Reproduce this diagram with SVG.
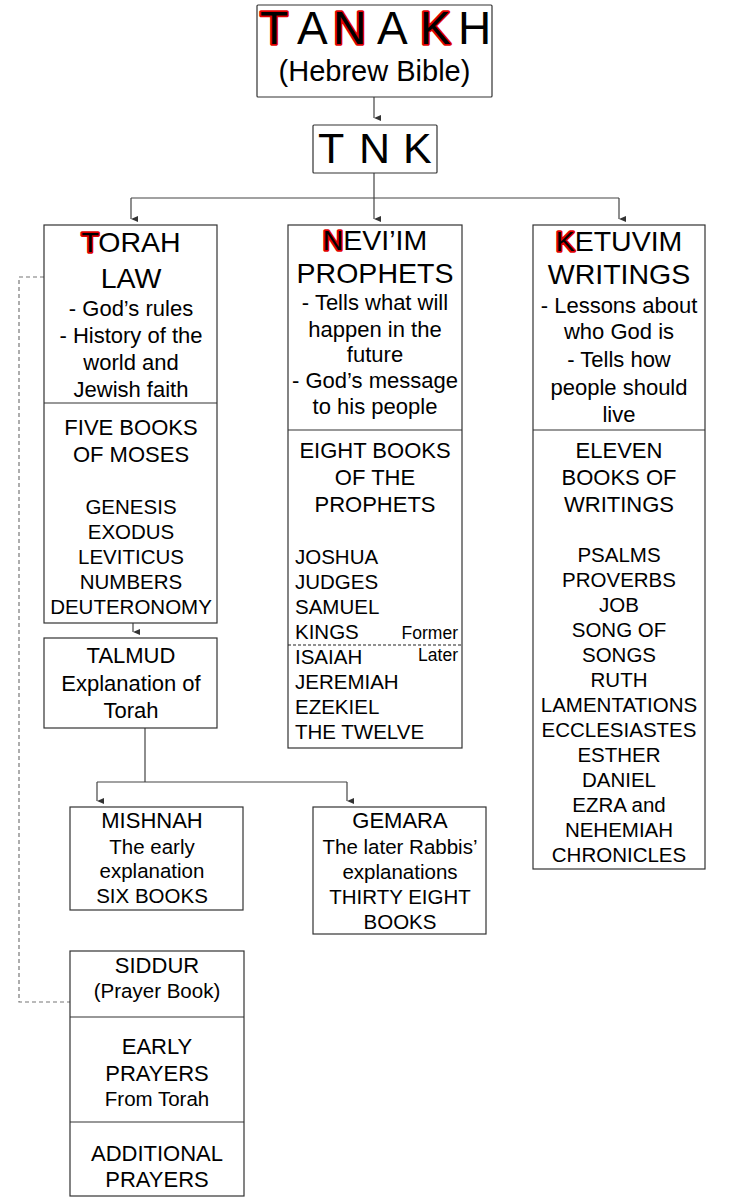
<svg xmlns="http://www.w3.org/2000/svg" width="750" height="1201" viewBox="0 0 750 1201">
<defs>
<marker id="arr" markerWidth="8" markerHeight="8" refX="4" refY="7" orient="auto" markerUnits="userSpaceOnUse" viewBox="0 0 8 8">
<path d="M1,0 L4,7 L7,0 Z" fill="#333"/>
</marker>
</defs>
<style>
text{font-family:"Liberation Sans",Arial,sans-serif;fill:#000;}
.box{fill:#fff;stroke:#333;stroke-width:1.2;}
.div{stroke:#333;stroke-width:1.2;fill:none;}
.c{text-anchor:middle;}
.l{text-anchor:start;}
.r{text-anchor:end;}
.h{font-size:28.5px;}
.m{font-size:22px;}
.s{font-size:20.5px;}
.t{font-size:17.5px;}
.red{stroke:#e00000;stroke-width:3.5;paint-order:stroke;stroke-linejoin:round;}
.conn{stroke:#444;stroke-width:1.2;fill:none;}
.dash{stroke:#777;stroke-width:1.2;fill:none;stroke-dasharray:4,3;}
</style>
<rect width="750" height="1201" fill="#fff"/>

<g id="connectors">
<path class="conn" d="M374,97 V118" marker-end="url(#arr)"/>
<path class="conn" d="M374,173 V198 M131,198 H619"/>
<path class="conn" d="M131,198 V219" marker-end="url(#arr)"/>
<path class="conn" d="M374,198 V219" marker-end="url(#arr)"/>
<path class="conn" d="M619,198 V219" marker-end="url(#arr)"/>
<path class="conn" d="M133,623 V632" marker-end="url(#arr)"/>
<path class="conn" d="M145,728 V782 M97,782 H347"/>
<path class="conn" d="M97,782 V801" marker-end="url(#arr)"/>
<path class="conn" d="M347,782 V801" marker-end="url(#arr)"/>
<path class="dash" d="M44,277 H19 V1002 H70"/>
</g>

<g id="tanakh">
<rect class="box" x="257" y="5" width="235" height="92" rx="1"/>
<text font-size="46" y="44"><tspan class="red" x="260">T</tspan><tspan x="297">A</tspan><tspan class="red" x="333">N</tspan><tspan x="377">A</tspan><tspan class="red" x="420">K</tspan><tspan x="458">H</tspan></text>
<text class="c" font-size="29" x="374.5" y="81">(Hebrew Bible)</text>
</g>

<g id="tnk">
<rect class="box" x="313" y="125" width="124" height="48" rx="1"/>
<text font-size="43" y="163"><tspan x="318">T</tspan><tspan x="359">N</tspan><tspan x="403">K</tspan></text>
</g>

<g id="torah">
<rect class="box" x="44" y="225" width="173" height="398"/>
<line class="div" x1="44" y1="403" x2="217" y2="403"/>
<text class="c h" x="131" y="252"><tspan class="red">T</tspan>ORAH</text>
<text class="c h" x="131" y="288">LAW</text>
<text class="c m" x="131" y="316">- God’s rules</text>
<text class="c m" x="131" y="343">- History of the</text>
<text class="c m" x="131" y="370">world and</text>
<text class="c m" x="131" y="397">Jewish faith</text>
<text class="c m" x="131" y="435">FIVE BOOKS</text>
<text class="c m" x="131" y="462">OF MOSES</text>
<text class="c s" x="131" y="514">GENESIS</text>
<text class="c s" x="131" y="539">EXODUS</text>
<text class="c s" x="131" y="564">LEVITICUS</text>
<text class="c s" x="131" y="589">NUMBERS</text>
<text class="c s" x="131" y="614">DEUTERONOMY</text>
</g>

<g id="neviim">
<rect class="box" x="288" y="225" width="174" height="523"/>
<line class="div" x1="288" y1="430" x2="462" y2="430"/>
<line x1="288" y1="645" x2="462" y2="645" stroke="#222" stroke-width="1.2" stroke-dasharray="3,2"/>
<text class="c h" x="375" y="250"><tspan class="red">N</tspan>EVI’IM</text>
<text class="c h" x="375" y="283">PROPHETS</text>
<text class="c m" x="375" y="310">- Tells what will</text>
<text class="c m" x="375" y="337">happen in the</text>
<text class="c m" x="375" y="362">future</text>
<text class="c m" x="375" y="388">- God’s message</text>
<text class="c m" x="375" y="414">to his people</text>
<text class="c m" x="375" y="458">EIGHT BOOKS</text>
<text class="c m" x="375" y="485">OF THE</text>
<text class="c m" x="375" y="512">PROPHETS</text>
<text class="l s" x="295" y="564">JOSHUA</text>
<text class="l s" x="295" y="589">JUDGES</text>
<text class="l s" x="295" y="614">SAMUEL</text>
<text class="l s" x="295" y="639">KINGS</text>
<text class="r t" x="458" y="639">Former</text>
<text class="l s" x="295" y="664">ISAIAH</text>
<text class="r t" x="458" y="661">Later</text>
<text class="l s" x="295" y="689">JEREMIAH</text>
<text class="l s" x="295" y="714">EZEKIEL</text>
<text class="l s" x="295" y="739">THE TWELVE</text>
</g>

<g id="ketuvim">
<rect class="box" x="533" y="225" width="172" height="644"/>
<line class="div" x1="533" y1="430" x2="705" y2="430"/>
<text class="c h" x="619" y="251"><tspan class="red">K</tspan>ETUVIM</text>
<text class="c h" x="619" y="284">WRITINGS</text>
<text class="c m" x="619" y="313">- Lessons about</text>
<text class="c m" x="619" y="339">who God is</text>
<text class="c m" x="619" y="367">- Tells how</text>
<text class="c m" x="619" y="395">people should</text>
<text class="c m" x="619" y="422">live</text>
<text class="c m" x="619" y="458">ELEVEN</text>
<text class="c m" x="619" y="485">BOOKS OF</text>
<text class="c m" x="619" y="512">WRITINGS</text>
<text class="c s" x="619" y="562">PSALMS</text>
<text class="c s" x="619" y="587">PROVERBS</text>
<text class="c s" x="619" y="612">JOB</text>
<text class="c s" x="619" y="637">SONG OF</text>
<text class="c s" x="619" y="662">SONGS</text>
<text class="c s" x="619" y="687">RUTH</text>
<text class="c s" x="619" y="712">LAMENTATIONS</text>
<text class="c s" x="619" y="737">ECCLESIASTES</text>
<text class="c s" x="619" y="762">ESTHER</text>
<text class="c s" x="619" y="787">DANIEL</text>
<text class="c s" x="619" y="812">EZRA and</text>
<text class="c s" x="619" y="837">NEHEMIAH</text>
<text class="c s" x="619" y="862">CHRONICLES</text>
</g>

<g id="talmud">
<rect class="box" x="44" y="638" width="173" height="90"/>
<text class="c m" x="131" y="663">TALMUD</text>
<text class="c m" x="131" y="691">Explanation of</text>
<text class="c m" x="131" y="718">Torah</text>
</g>

<g id="mishnah">
<rect class="box" x="70" y="807" width="173" height="103"/>
<text class="c m" x="152" y="828">MISHNAH</text>
<text class="c s" x="152" y="854">The early</text>
<text class="c s" x="152" y="878">explanation</text>
<text class="c s" x="152" y="903">SIX BOOKS</text>
</g>

<g id="gemara">
<rect class="box" x="313" y="807" width="173" height="127"/>
<text class="c m" x="400" y="828">GEMARA</text>
<text class="c s" x="400" y="854">The later Rabbis’</text>
<text class="c s" x="400" y="879">explanations</text>
<text class="c s" x="400" y="904">THIRTY EIGHT</text>
<text class="c s" x="400" y="929">BOOKS</text>
</g>

<g id="siddur">
<rect class="box" x="70" y="951" width="174" height="245"/>
<line class="div" x1="70" y1="1017" x2="244" y2="1017"/>
<line class="div" x1="70" y1="1122" x2="244" y2="1122"/>
<text class="c m" x="157" y="973">SIDDUR</text>
<text class="c s" x="157" y="998">(Prayer Book)</text>
<text class="c m" x="157" y="1054">EARLY</text>
<text class="c m" x="157" y="1081">PRAYERS</text>
<text class="c s" x="157" y="1106">From Torah</text>
<text class="c m" x="157" y="1161">ADDITIONAL</text>
<text class="c m" x="157" y="1187">PRAYERS</text>
</g>
</svg>
